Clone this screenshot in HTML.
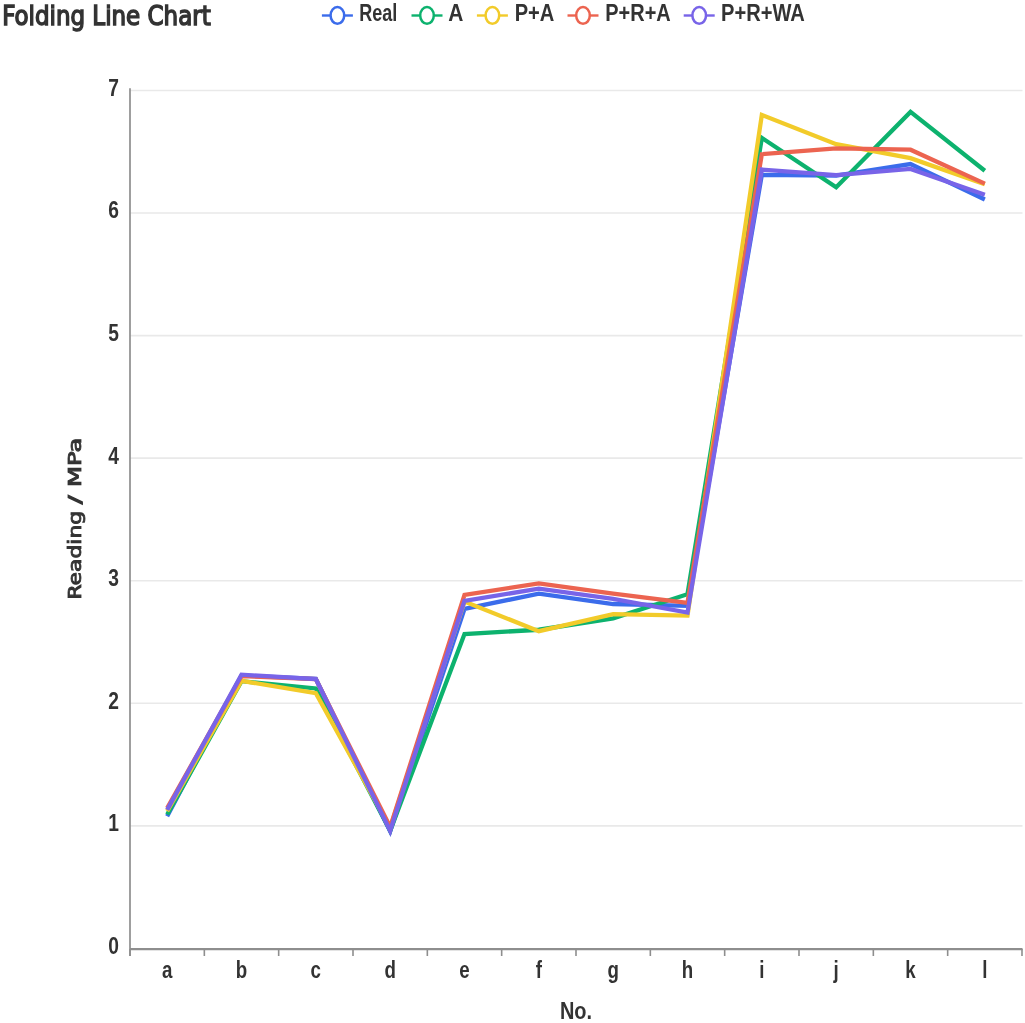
<!DOCTYPE html>
<html><head><meta charset="utf-8"><title>Folding Line Chart</title>
<style>
html,body{margin:0;padding:0;background:#fff;}
body{width:1025px;height:1023px;overflow:hidden;position:relative;}
svg{position:absolute;left:0;top:0;}
text{font-family:"Liberation Sans",Arial,sans-serif;font-weight:bold;fill:#333333;}
</style></head><body>
<svg width="1025" height="1023" viewBox="0 0 1025 1023">

<text x="2.2" y="25" font-size="26.6" textLength="208.5" lengthAdjust="spacingAndGlyphs" style="font-family:'DejaVu Sans','Liberation Sans',sans-serif;font-stretch:condensed;font-weight:normal;stroke:#333;stroke-width:1.4">Folding Line Chart</text>
<line x1="321.9" y1="15.5" x2="352.9" y2="15.5" stroke="#3b6ceb" stroke-width="2.4"/>
<ellipse cx="337.4" cy="15.4" rx="6.8" ry="8.4" fill="#fff" stroke="#3b6ceb" stroke-width="2.5"/>
<text x="359.20" y="20.6" font-size="23.2" textLength="38.10" lengthAdjust="spacingAndGlyphs">Real</text>
<line x1="411.5" y1="15.5" x2="442.5" y2="15.5" stroke="#0db26e" stroke-width="2.4"/>
<ellipse cx="427.0" cy="15.4" rx="6.8" ry="8.4" fill="#fff" stroke="#0db26e" stroke-width="2.5"/>
<text x="448.30" y="20.6" font-size="23.2" textLength="15.10" lengthAdjust="spacingAndGlyphs">A</text>
<line x1="476.9" y1="15.5" x2="507.9" y2="15.5" stroke="#f2cb2a" stroke-width="2.4"/>
<ellipse cx="492.4" cy="15.4" rx="6.8" ry="8.4" fill="#fff" stroke="#f2cb2a" stroke-width="2.5"/>
<text x="514.70" y="20.6" font-size="23.2" textLength="39.70" lengthAdjust="spacingAndGlyphs">P+A</text>
<line x1="567.5" y1="15.5" x2="598.5" y2="15.5" stroke="#ec6450" stroke-width="2.4"/>
<ellipse cx="583.0" cy="15.4" rx="6.8" ry="8.4" fill="#fff" stroke="#ec6450" stroke-width="2.5"/>
<text x="605.30" y="20.6" font-size="23.2" textLength="65.40" lengthAdjust="spacingAndGlyphs">P+R+A</text>
<line x1="683.7" y1="15.5" x2="714.7" y2="15.5" stroke="#7864e8" stroke-width="2.4"/>
<ellipse cx="699.2" cy="15.4" rx="6.8" ry="8.4" fill="#fff" stroke="#7864e8" stroke-width="2.5"/>
<text x="721.10" y="20.6" font-size="23.2" textLength="83.80" lengthAdjust="spacingAndGlyphs">P+R+WA</text>
<line x1="130.0" y1="825.84" x2="1022.5" y2="825.84" stroke="#e9e9e9" stroke-width="1.6"/>
<line x1="130.0" y1="703.28" x2="1022.5" y2="703.28" stroke="#e9e9e9" stroke-width="1.6"/>
<line x1="130.0" y1="580.72" x2="1022.5" y2="580.72" stroke="#e9e9e9" stroke-width="1.6"/>
<line x1="130.0" y1="458.16" x2="1022.5" y2="458.16" stroke="#e9e9e9" stroke-width="1.6"/>
<line x1="130.0" y1="335.60" x2="1022.5" y2="335.60" stroke="#e9e9e9" stroke-width="1.6"/>
<line x1="130.0" y1="213.04" x2="1022.5" y2="213.04" stroke="#e9e9e9" stroke-width="1.6"/>
<line x1="130.0" y1="90.48" x2="1022.5" y2="90.48" stroke="#e9e9e9" stroke-width="1.6"/>
<text x="119" y="953.80" font-size="24" text-anchor="end" transform="translate(119.00 0) scale(0.8 1) translate(-119.00 0)">0</text>
<text x="119" y="831.24" font-size="24" text-anchor="end" transform="translate(119.00 0) scale(0.8 1) translate(-119.00 0)">1</text>
<text x="119" y="708.68" font-size="24" text-anchor="end" transform="translate(119.00 0) scale(0.8 1) translate(-119.00 0)">2</text>
<text x="119" y="586.12" font-size="24" text-anchor="end" transform="translate(119.00 0) scale(0.8 1) translate(-119.00 0)">3</text>
<text x="119" y="463.56" font-size="24" text-anchor="end" transform="translate(119.00 0) scale(0.8 1) translate(-119.00 0)">4</text>
<text x="119" y="341.00" font-size="24" text-anchor="end" transform="translate(119.00 0) scale(0.8 1) translate(-119.00 0)">5</text>
<text x="119" y="218.44" font-size="24" text-anchor="end" transform="translate(119.00 0) scale(0.8 1) translate(-119.00 0)">6</text>
<text x="119" y="95.88" font-size="24" text-anchor="end" transform="translate(119.00 0) scale(0.8 1) translate(-119.00 0)">7</text>
<line x1="130.0" y1="88.3" x2="130.0" y2="956" stroke="#8e8e8e" stroke-width="1.7"/>
<line x1="130.0" y1="949.1" x2="1022.5" y2="949.1" stroke="#8e8e8e" stroke-width="2.2"/>
<line x1="130.00" y1="949" x2="130.00" y2="956" stroke="#8e8e8e" stroke-width="1.6"/>
<line x1="204.33" y1="949" x2="204.33" y2="956" stroke="#8e8e8e" stroke-width="1.6"/>
<line x1="278.67" y1="949" x2="278.67" y2="956" stroke="#8e8e8e" stroke-width="1.6"/>
<line x1="353.00" y1="949" x2="353.00" y2="956" stroke="#8e8e8e" stroke-width="1.6"/>
<line x1="427.33" y1="949" x2="427.33" y2="956" stroke="#8e8e8e" stroke-width="1.6"/>
<line x1="501.67" y1="949" x2="501.67" y2="956" stroke="#8e8e8e" stroke-width="1.6"/>
<line x1="576.00" y1="949" x2="576.00" y2="956" stroke="#8e8e8e" stroke-width="1.6"/>
<line x1="650.33" y1="949" x2="650.33" y2="956" stroke="#8e8e8e" stroke-width="1.6"/>
<line x1="724.67" y1="949" x2="724.67" y2="956" stroke="#8e8e8e" stroke-width="1.6"/>
<line x1="799.00" y1="949" x2="799.00" y2="956" stroke="#8e8e8e" stroke-width="1.6"/>
<line x1="873.33" y1="949" x2="873.33" y2="956" stroke="#8e8e8e" stroke-width="1.6"/>
<line x1="947.67" y1="949" x2="947.67" y2="956" stroke="#8e8e8e" stroke-width="1.6"/>
<line x1="1022.00" y1="949" x2="1022.00" y2="956" stroke="#8e8e8e" stroke-width="1.6"/>
<text x="167.17" y="977.9" font-size="24" text-anchor="middle" transform="translate(167.17 0) scale(0.78 1) translate(-167.17 0)">a</text>
<text x="241.50" y="977.9" font-size="24" text-anchor="middle" transform="translate(241.50 0) scale(0.78 1) translate(-241.50 0)">b</text>
<text x="315.83" y="977.9" font-size="24" text-anchor="middle" transform="translate(315.83 0) scale(0.78 1) translate(-315.83 0)">c</text>
<text x="390.17" y="977.9" font-size="24" text-anchor="middle" transform="translate(390.17 0) scale(0.78 1) translate(-390.17 0)">d</text>
<text x="464.50" y="977.9" font-size="24" text-anchor="middle" transform="translate(464.50 0) scale(0.78 1) translate(-464.50 0)">e</text>
<text x="538.83" y="977.9" font-size="24" text-anchor="middle" transform="translate(538.83 0) scale(0.78 1) translate(-538.83 0)">f</text>
<text x="613.17" y="977.9" font-size="24" text-anchor="middle" transform="translate(613.17 0) scale(0.78 1) translate(-613.17 0)">g</text>
<text x="687.50" y="977.9" font-size="24" text-anchor="middle" transform="translate(687.50 0) scale(0.78 1) translate(-687.50 0)">h</text>
<text x="761.83" y="977.9" font-size="24" text-anchor="middle" transform="translate(761.83 0) scale(0.78 1) translate(-761.83 0)">i</text>
<text x="836.17" y="977.9" font-size="24" text-anchor="middle" transform="translate(836.17 0) scale(0.78 1) translate(-836.17 0)">j</text>
<text x="910.50" y="977.9" font-size="24" text-anchor="middle" transform="translate(910.50 0) scale(0.78 1) translate(-910.50 0)">k</text>
<text x="984.83" y="977.9" font-size="24" text-anchor="middle" transform="translate(984.83 0) scale(0.78 1) translate(-984.83 0)">l</text>
<text x="576" y="1019.2" font-size="23.5" text-anchor="middle" transform="translate(576.00 0) scale(0.85 1) translate(-576.00 0)">No.</text>
<text x="0" y="0" font-size="20.5" textLength="88.8" lengthAdjust="spacingAndGlyphs" transform="translate(81.2 599.6) scale(0.86 1) rotate(-90)" style="font-family:'DejaVu Sans','Liberation Sans',sans-serif;font-stretch:condensed;font-weight:normal;stroke:#333;stroke-width:0.95">Reading</text>
<text x="0" y="0" font-size="20.5" textLength="9.0" lengthAdjust="spacingAndGlyphs" transform="translate(81.2 504.2) scale(0.86 1) rotate(-90)" style="font-family:'DejaVu Sans','Liberation Sans',sans-serif;font-stretch:condensed;font-weight:normal;stroke:#333;stroke-width:0.95">/</text>
<text x="0" y="0" font-size="20.5" textLength="49.2" lengthAdjust="spacingAndGlyphs" transform="translate(81.2 486.9) scale(0.86 1) rotate(-90)" style="font-family:'DejaVu Sans','Liberation Sans',sans-serif;font-stretch:condensed;font-weight:normal;stroke:#333;stroke-width:0.95">MPa</text>
<polyline points="167.17,816.28 241.50,675.58 315.83,678.77 390.17,831.36 464.50,608.91 538.83,593.59 613.17,604.01 687.50,605.84 761.83,174.80 836.17,175.66 910.50,164.02 984.83,199.56" fill="none" stroke="#3b6ceb" stroke-width="4.3" stroke-linejoin="miter" stroke-miterlimit="10"/>
<polyline points="167.17,814.56 241.50,681.22 315.83,688.45 390.17,830.74 464.50,634.03 538.83,629.74 613.17,618.35 687.50,594.20 761.83,137.91 836.17,187.30 910.50,111.93 984.83,170.76" fill="none" stroke="#0db26e" stroke-width="4.3" stroke-linejoin="miter" stroke-miterlimit="10"/>
<polyline points="167.17,811.13 241.50,680.85 315.83,693.11 390.17,827.68 464.50,601.56 538.83,631.21 613.17,614.18 687.50,615.65 761.83,114.99 836.17,144.16 910.50,158.13 984.83,184.24" fill="none" stroke="#f2cb2a" stroke-width="4.3" stroke-linejoin="miter" stroke-miterlimit="10"/>
<polyline points="167.17,808.07 241.50,676.07 315.83,679.01 390.17,827.07 464.50,594.94 538.83,583.42 613.17,593.59 687.50,602.78 761.83,154.21 836.17,148.45 910.50,149.68 984.83,183.63" fill="none" stroke="#ec6450" stroke-width="4.3" stroke-linejoin="miter" stroke-miterlimit="10"/>
<polyline points="167.17,809.91 241.50,674.72 315.83,679.14 390.17,830.74 464.50,600.82 538.83,588.69 613.17,598.86 687.50,612.59 761.83,169.53 836.17,175.17 910.50,168.92 984.83,194.78" fill="none" stroke="#7864e8" stroke-width="4.3" stroke-linejoin="miter" stroke-miterlimit="10"/>
</svg></body></html>
